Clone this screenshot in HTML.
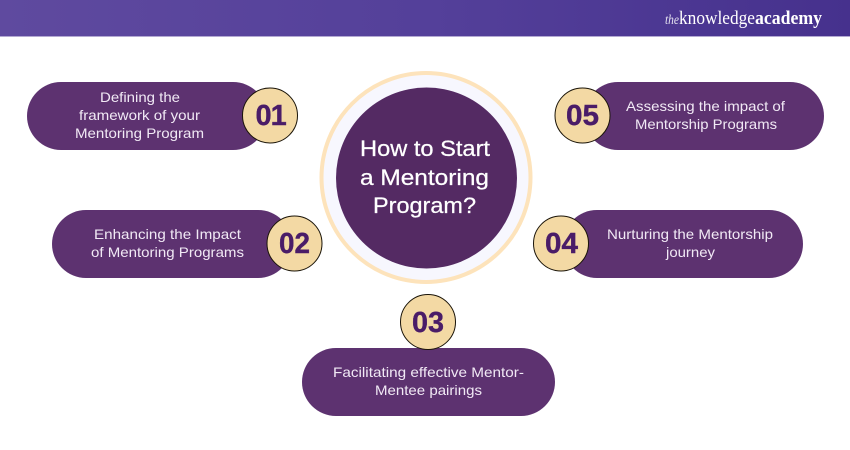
<!DOCTYPE html>
<html>
<head>
<meta charset="utf-8">
<style>
html,body{margin:0;padding:0;background:#fff;width:850px;height:450px;overflow:hidden}
svg{display:block}
text{font-family:"Liberation Sans",sans-serif}
.p{fill:#f1e9f5;font-size:14px;text-anchor:start}
.n{fill:#4a1c68;font-size:29px;font-weight:bold;stroke:#4a1c68;stroke-width:.4px}
.c{fill:#fff;font-size:22px;stroke:#fff;stroke-width:.25px}
.l{font-family:"Liberation Serif",serif;fill:#fff;font-size:19px}
</style>
</head>
<body>
<svg width="850" height="450" viewBox="0 0 850 450" xmlns="http://www.w3.org/2000/svg">
<defs>
<linearGradient id="h" x1="0" x2="1" y1="0" y2="0">
<stop offset="0" stop-color="#5f4a9f"/>
<stop offset=".5" stop-color="#54409a"/>
<stop offset="1" stop-color="#46318d"/>
</linearGradient>
</defs>
<rect width="850" height="450" fill="#fff"/>
<rect width="850" height="36" fill="url(#h)"/>
<rect y="36" width="850" height="1" fill="#b3a9d2"/>

<text class="l" x="665" y="24" font-style="italic" style="font-size:14px" textLength="14" lengthAdjust="spacingAndGlyphs" fill-opacity=".85">the</text>
<text class="l" x="679" y="24" textLength="76" lengthAdjust="spacingAndGlyphs">knowledge</text>
<text class="l" x="755" y="24" font-weight="bold" textLength="67" lengthAdjust="spacingAndGlyphs">academy</text>

<!-- pills -->
<rect x="27" y="82" width="240" height="68" rx="34" fill="#5d3270"/>
<rect x="52" y="210" width="240" height="68" rx="34" fill="#5d3270"/>
<rect x="302" y="348" width="253" height="68" rx="34" fill="#5d3270"/>
<rect x="563" y="210" width="240" height="68" rx="34" fill="#5d3270"/>
<rect x="584" y="82" width="240" height="68" rx="34" fill="#5d3270"/>

<!-- centre -->
<circle cx="426" cy="177.5" r="104.5" fill="#f7f7fe" stroke="#fde3bb" stroke-width="4"/>
<circle cx="426.5" cy="178" r="90.5" fill="#542a63"/>
<text class="c" x="360" y="156" textLength="130" lengthAdjust="spacingAndGlyphs">How to Start</text>
<text class="c" x="360" y="185" textLength="129" lengthAdjust="spacingAndGlyphs">a Mentoring</text>
<text class="c" x="373" y="213" textLength="103" lengthAdjust="spacingAndGlyphs">Program?</text>

<!-- number circles -->
<g fill="#f3d9a4" stroke="#1a1408" stroke-width="1">
<circle cx="270" cy="115.5" r="27.5"/>
<circle cx="294.5" cy="243.5" r="27.5"/>
<circle cx="428" cy="322" r="27.5"/>
<circle cx="561" cy="243.5" r="27.5"/>
<circle cx="582.5" cy="115.5" r="27.5"/>
</g>
<text class="n" x="255.5" y="125">0<tspan dx="-1">1</tspan></text>
<text class="n" x="279" y="253" textLength="31" lengthAdjust="spacingAndGlyphs">02</text>
<text class="n" x="412" y="332" textLength="32" lengthAdjust="spacingAndGlyphs">03</text>
<text class="n" x="545" y="253" textLength="33" lengthAdjust="spacingAndGlyphs">04</text>
<text class="n" x="566" y="125" textLength="33" lengthAdjust="spacingAndGlyphs">05</text>

<!-- labels -->
<text class="p" x="100" y="102" textLength="80" lengthAdjust="spacingAndGlyphs">Defining the</text>
<text class="p" x="79" y="120" textLength="121" lengthAdjust="spacingAndGlyphs">framework of your</text>
<text class="p" x="75" y="138" textLength="129" lengthAdjust="spacingAndGlyphs">Mentoring Program</text>

<text class="p" x="94" y="239" textLength="147" lengthAdjust="spacingAndGlyphs">Enhancing the Impact</text>
<text class="p" x="91" y="257" textLength="153" lengthAdjust="spacingAndGlyphs">of Mentoring Programs</text>

<text class="p" x="333" y="377" textLength="191" lengthAdjust="spacingAndGlyphs">Facilitating effective Mentor-</text>
<text class="p" x="375" y="395" textLength="107" lengthAdjust="spacingAndGlyphs">Mentee pairings</text>

<text class="p" x="607" y="239" textLength="166" lengthAdjust="spacingAndGlyphs">Nurturing the Mentorship</text>
<text class="p" x="666" y="257" textLength="49" lengthAdjust="spacingAndGlyphs">journey</text>

<text class="p" x="626" y="111" textLength="159" lengthAdjust="spacingAndGlyphs">Assessing the impact of</text>
<text class="p" x="635" y="129" textLength="142" lengthAdjust="spacingAndGlyphs">Mentorship Programs</text>
</svg>
</body>
</html>
